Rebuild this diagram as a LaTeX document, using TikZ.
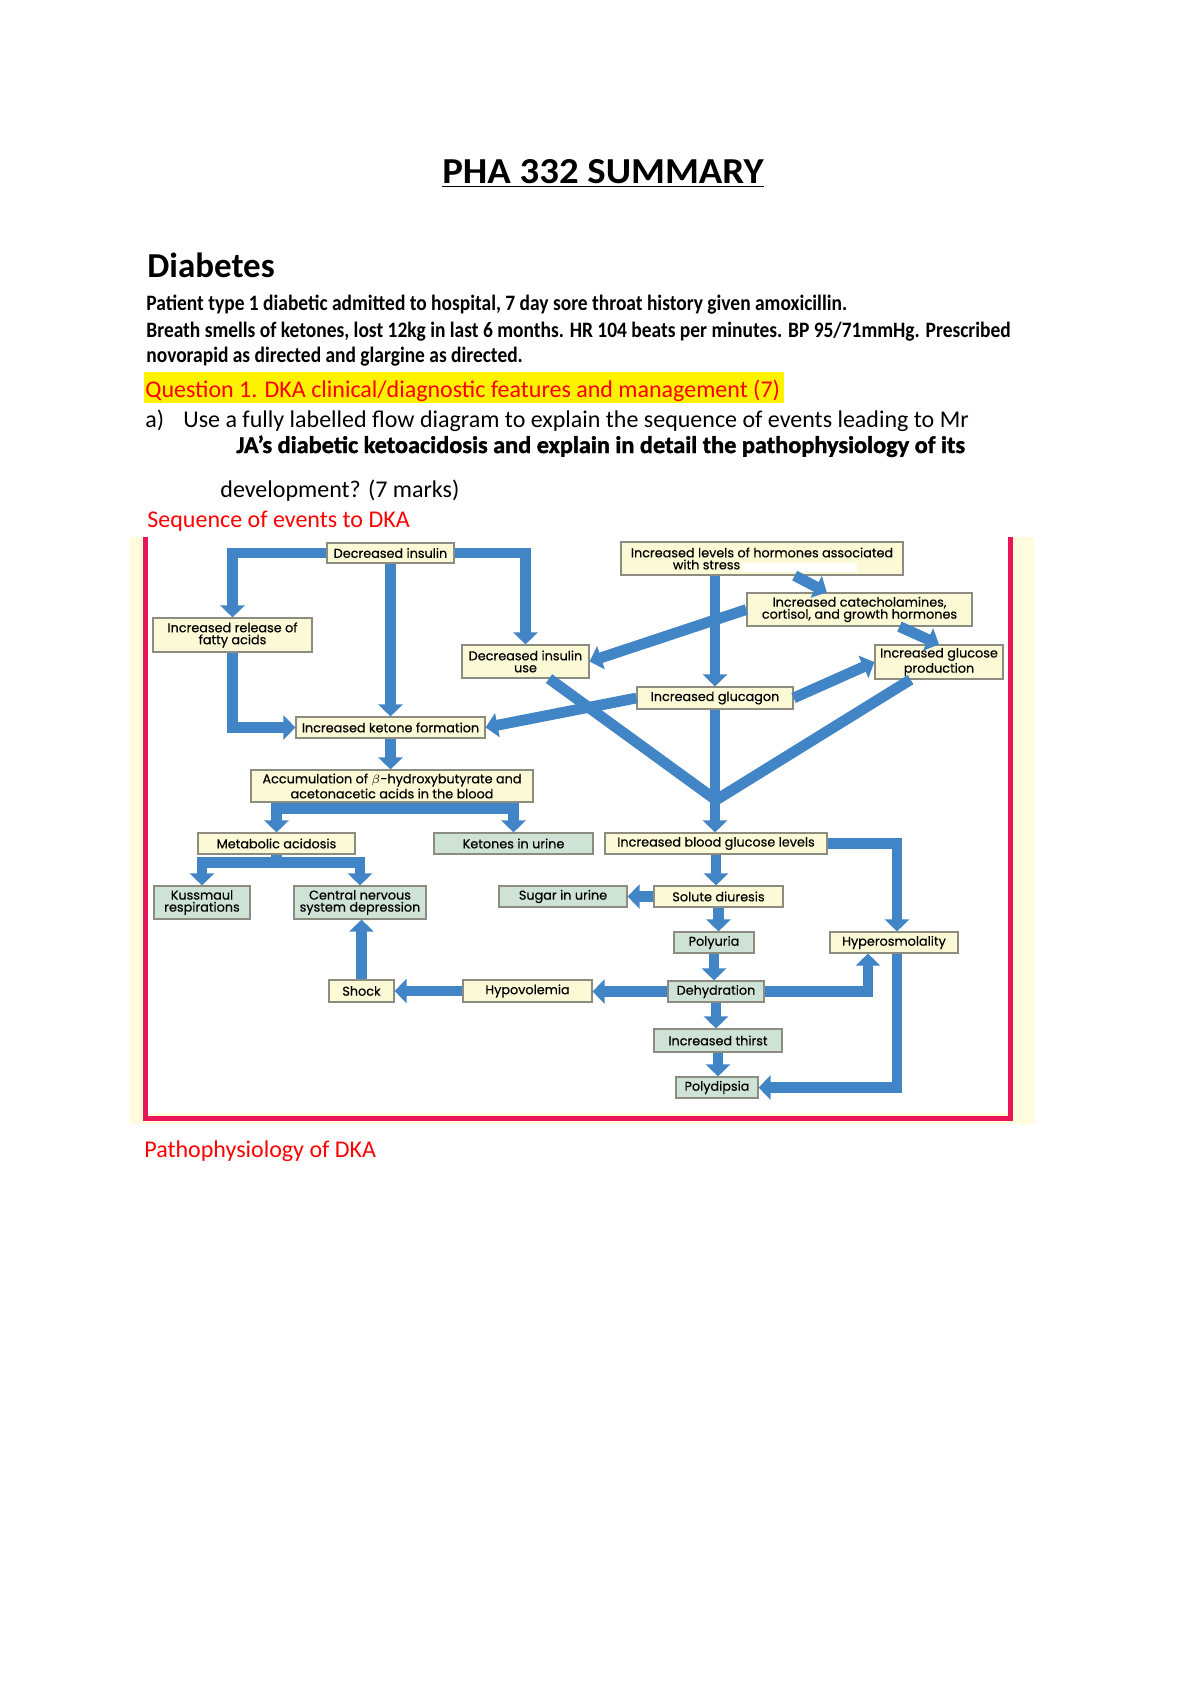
\documentclass[tikz,border=0pt]{standalone}
\usepackage{fontspec}
\setmainfont{Carlito}
\newfontfamily\bodyfont[FakeStretch=0.884]{Carlito}
\newfontfamily\titlefont[FakeStretch=1.06]{Carlito}
\newfontfamily\heavyfont[FakeStretch=1.013,FakeBold=1.4]{Carlito}
\newfontfamily\boxfont[FakeBold=0.4]{Poppins}
\usetikzlibrary{arrows.meta}
\definecolor{flowblue}{RGB}{66,133,198}
\definecolor{boxcream}{RGB}{252,250,214}
\definecolor{boxsage}{RGB}{206,226,214}
\definecolor{boxedge}{RGB}{140,140,128}
\definecolor{framered}{RGB}{232,22,88}
\definecolor{framepale}{RGB}{255,252,222}
\tikzset{
  box/.style={draw=boxedge, line width=0.6pt, inner sep=0pt, align=center, font=\boxfont\fontsize{6.4}{6}\selectfont},
  band/.style={draw=flowblue, line width=5.4pt},
  flow/.style={band, -{Triangle[width=12pt,length=6pt]}},
  para/.style={anchor=base west, inner sep=0pt, font=\bodyfont\fontsize{11}{13}\selectfont\bfseries},
  qline/.style={anchor=base west, inner sep=0pt, font=\fontsize{12}{14}\selectfont}
}
\begin{document}
\begin{tikzpicture}[x=0.5pt,y=-0.5pt]
\useasboundingbox (0,0) rectangle (1200,1698);
\node[anchor=base, inner sep=0pt, font=\titlefont\fontsize{18.3}{20}\selectfont\bfseries] (title) at (603,183) {\underline{PHA 332 SUMMARY}};
\node[anchor=base west, inner sep=0pt, font=\fontsize{17.5}{20}\selectfont\bfseries] (diab) at (147,277) {Diabetes};
\node[para] (case1) at (146,310) {Patient type 1 diabetic admitted to hospital, 7 day sore throat history given amoxicillin.};
\node[para] (case2) at (146,337) {Breath smells of ketones, lost 12kg in last 6 months. HR 104 beats per minutes. BP 95/71mmHg. Prescribed};
\node[para] (case3) at (146,362) {novorapid as directed and glargine as directed.};
\fill[yellow] (144,372) rectangle (784,403);
\node[qline, text=red] (quest) at (145,397) {Question 1. DKA clinical/diagnostic features and management (7)};
\node[qline] (qa) at (145,427) {a)};
\node[qline] (qa1) at (183,427) {Use a fully labelled flow diagram to explain the sequence of events leading to Mr};
\node[qline, font=\heavyfont\fontsize{12}{14}\selectfont\bfseries] (qa2) at (236,453) {JA’s diabetic ketoacidosis and explain in detail the pathophysiology of its};
\node[qline] (qa3) at (220,497) {development? (7 marks)};
\node[qline, text=red] (seq) at (147,527) {Sequence of events to DKA};
\node[qline, text=red] (patho) at (144,1157) {Pathophysiology of DKA};
\fill[framepale] (130,537) rectangle (1034,1124);
\fill[white] (147,537) rectangle (1008,1113);
\draw[framered, line width=2.5pt] (145,537) -- (145,1118) -- (1010.5,1118) -- (1010.5,537);
\foreach \nm/\xa/\ya/\xb/\yb/\fl/\txt in {
  decins/327/543/454/563/boxcream/{Decreased insulin},
  fatty/153/618/312/652/boxcream/{Increased release of\\fatty acids},
  decuse/462/645/589/678/boxcream/{Decreased insulin\\use},
  ketone/296/717/485/738/boxcream/{Increased ketone formation},
  accum/251/770/533/802/boxcream/{Accumulation of $\beta$-hydroxybutyrate and\\acetonacetic acids in the blood},
  metab/198/833/355/854/boxcream/{Metabolic acidosis},
  ketur/434/833/593/854/boxsage/{Ketones in urine},
  kuss/154/886/250/919/boxsage/{Kussmaul\\respirations},
  cns/294/886/426/919/boxsage/{Central nervous\\system depression},
  shock/329/980/394/1002/boxcream/{Shock},
  hypov/463/980/592/1002/boxcream/{Hypovolemia},
  catech/747/593/972/626/boxcream/{Increased catecholamines,\\cortisol, and growth hormones},
  gluprod/875/645/1003/679/boxcream/{Increased glucose\\production},
  glucagon/637/687/793/709/boxcream/{Increased glucagon},
  bloodglu/605/833/827/854/boxcream/{Increased blood glucose levels},
  sugur/499/886/627/907/boxsage/{Sugar in urine},
  solute/654/886/783/907/boxcream/{Solute diuresis},
  polyur/674/932/754/953/boxsage/{Polyuria},
  hyperosm/830/932/958/953/boxcream/{Hyperosmolality},
  dehyd/668/981/764/1002/boxsage/{Dehydration},
  thirst/654/1029/782/1052/boxsage/{Increased thirst},
  polydip/676/1077/758/1098/boxsage/{Polydipsia}}
  \node[box, fill=\fl, minimum width={(\xb-\xa)*0.5pt}, minimum height={(\yb-\ya)*0.5pt}] (\nm) at ({(\xa+\xb)/2},{(\ya+\yb)/2}) {\txt};
\node[box, fill=boxcream, align=left, minimum width=141pt, minimum height=16.5pt] (stress) at (762,558.5) {Increased levels of hormones associated\\\hspace*{21pt}with stress};
\fill[white] (742,563) rectangle (857,572);
\coordinate (vjoin) at (716,800);
\draw[flow] (decins.west) -| (fatty.north);
\draw[flow] (decins.east) -| (decuse.north);
\draw[flow] (decins.south) -- (decins.south |- ketone.north);
\draw[flow] (fatty.south) |- (ketone.west);
\draw[flow] (ketone.south) -- (ketone.south |- accum.north);
\draw[flow] (accum.south) -- ++(0,6) -| (metab.north);
\draw[flow] (accum.south) -- ++(0,6) -| (ketur.north);
\draw[flow] (metab.south) -- ++(0,8) -| (kuss.north);
\draw[flow] (metab.south) -- ++(0,8) -| (cns.north);
\draw[flow] (shock.north) -- (shock.north |- cns.south);
\draw[flow] (hypov.west) -- (hypov.west -| shock.east);
\draw[flow] (stress) -- (catech);
\draw[flow] (catech.west) -- (decuse.east);
\draw[flow] ([xshift=20pt]catech.south) -- (gluprod.north);
\draw[flow] (stress.south -| glucagon.north) -- (glucagon.north);
\draw[flow] (glucagon.east) -- (gluprod.west);
\draw[flow] (glucagon.west) -- (ketone.east);
\draw[band] (decuse) -- (vjoin);
\draw[band] (gluprod) -- (vjoin);
\draw[flow] (glucagon.south) -- (glucagon.south |- bloodglu.north);
\foreach \a/\b in {bloodglu/solute, solute/polyur, polyur/dehyd, dehyd/thirst, thirst/polydip}
  \draw[flow] (\a.south) -- (\a.south |- \b.north);
\draw[flow] (bloodglu.east) -| ([xshift=1.5pt]hyperosm.north);
\draw[flow] (solute.west) -- (solute.west -| sugur.east);
\draw[flow] (dehyd.west) -- (dehyd.west -| hypov.east);
\draw[flow] (dehyd.east) -| ([xshift=-13pt]hyperosm.south);
\draw[flow] ([xshift=1.5pt]hyperosm.south) |- (polydip.east);
\end{tikzpicture}
\end{document}
